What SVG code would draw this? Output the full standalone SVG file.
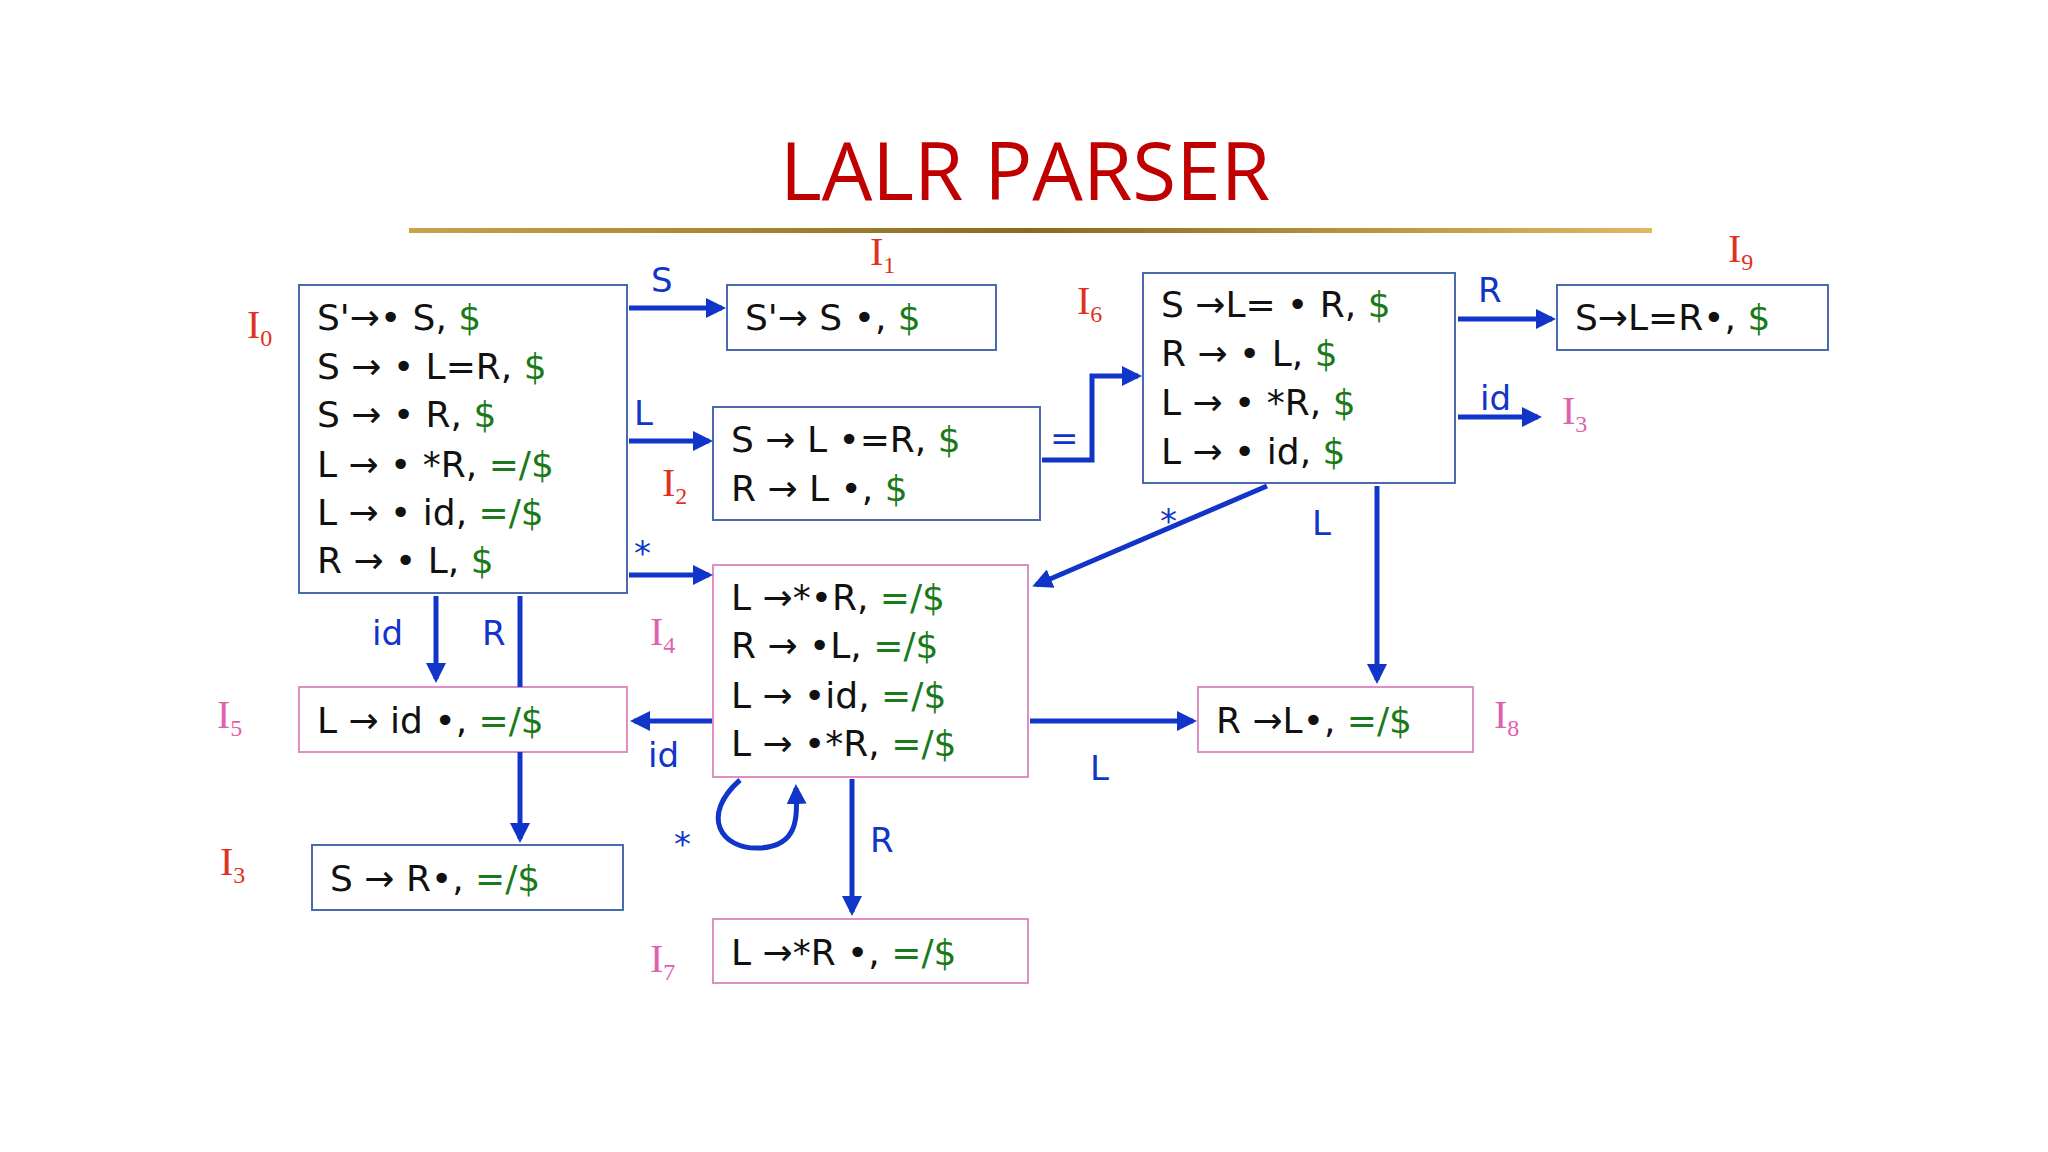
<svg xmlns="http://www.w3.org/2000/svg" width="2048" height="1152" viewBox="0 0 2048 1152">
<defs>
<linearGradient id="gl" x1="0" x2="1"><stop offset="0" stop-color="#c9a24a"/><stop offset="0.5" stop-color="#8a6a20"/><stop offset="1" stop-color="#e0b860"/></linearGradient>
<marker id="ah" viewBox="0 0 10 10" refX="8" refY="5" markerWidth="4" markerHeight="4" orient="auto"><path d="M0,0 L10,5 L0,10 z" fill="#1035c8"/></marker>
<style>
.t{font-family:"DejaVu Sans","Liberation Sans",sans-serif;font-size:36px;fill:#111}
.g{fill:#1a7a1a}
.b{fill:none;stroke:#4a6ab0;stroke-width:2}
.p{fill:none;stroke:#e090c0;stroke-width:2}
.c{fill:none;stroke:#1035c8;stroke-width:5;marker-end:url(#ah)}
.n{fill:none;stroke:#1035c8;stroke-width:5}
.l{font-family:"DejaVu Sans","Liberation Sans",sans-serif;font-size:34px;fill:#1035c8}
.r{font-family:"Liberation Serif",serif;font-size:40px;fill:#e03020}
.k{font-family:"Liberation Serif",serif;font-size:40px;fill:#e060b0}
.s{font-size:24px}
</style>
</defs>
<rect width="2048" height="1152" fill="#fff"/>
<text x="1025" y="200" text-anchor="middle" font-family="'Open Sans','Liberation Sans',sans-serif" font-size="80" fill="#c00000">LALR PARSER</text>
<rect x="409" y="228" width="1243" height="5" fill="url(#gl)"/>

<g id="I0"><rect class="b" x="299" y="285" width="328" height="308"/>
<text class="t" x="317" y="330">S'→• S, <tspan class="g">$</tspan></text>
<text class="t" x="317" y="379">S → • L=R, <tspan class="g">$</tspan></text>
<text class="t" x="317" y="427">S → • R, <tspan class="g">$</tspan></text>
<text class="t" x="317" y="477">L → • *R, <tspan class="g">=/$</tspan></text>
<text class="t" x="317" y="525">L → • id, <tspan class="g">=/$</tspan></text>
<text class="t" x="317" y="573">R → • L, <tspan class="g">$</tspan></text>
<text class="r" x="247" y="338">I<tspan class="s" dy="8">0</tspan></text></g>

<g id="I1"><rect class="b" x="727" y="285" width="269" height="65"/>
<text class="t" x="745" y="330">S'→ S •, <tspan class="g">$</tspan></text>
<text class="r" x="870" y="265">I<tspan class="s" dy="8">1</tspan></text></g>

<g id="I2"><rect class="b" x="713" y="407" width="327" height="113"/>
<text class="t" x="731" y="452">S →  L •=R, <tspan class="g">$</tspan></text>
<text class="t" x="731" y="501">R →  L •, <tspan class="g">$</tspan></text>
<text class="r" x="662" y="496">I<tspan class="s" dy="8">2</tspan></text></g>

<g id="I6"><rect class="b" x="1143" y="273" width="312" height="210"/>
<text class="t" x="1161" y="317">S →L= • R, <tspan class="g">$</tspan></text>
<text class="t" x="1161" y="366">R → • L, <tspan class="g">$</tspan></text>
<text class="t" x="1161" y="415">L → • *R, <tspan class="g">$</tspan></text>
<text class="t" x="1161" y="464">L → • id, <tspan class="g">$</tspan></text>
<text class="r" x="1077" y="314">I<tspan class="s" dy="8">6</tspan></text></g>

<g id="I9"><rect class="b" x="1557" y="285" width="271" height="65"/>
<text class="t" x="1575" y="330">S→L=R•, <tspan class="g">$</tspan></text>
<text class="r" x="1728" y="262">I<tspan class="s" dy="8">9</tspan></text></g>

<g id="I3a"><text class="k" x="1562" y="424">I<tspan class="s" dy="8">3</tspan></text></g>

<g id="I4"><rect class="p" x="713" y="565" width="315" height="212"/>
<text class="t" x="731" y="610">L →*•R, <tspan class="g">=/$</tspan></text>
<text class="t" x="731" y="658">R → •L, <tspan class="g">=/$</tspan></text>
<text class="t" x="731" y="708">L → •id, <tspan class="g">=/$</tspan></text>
<text class="t" x="731" y="756">L → •*R, <tspan class="g">=/$</tspan></text>
<text class="k" x="650" y="645">I<tspan class="s" dy="8">4</tspan></text></g>

<g id="I5"><rect class="p" x="299" y="687" width="328" height="65"/>
<text class="t" x="317" y="733">L →  id •, <tspan class="g">=/$</tspan></text>
<text class="k" x="217" y="728">I<tspan class="s" dy="8">5</tspan></text></g>

<g id="I8"><rect class="p" x="1198" y="687" width="275" height="65"/>
<text class="t" x="1216" y="733">R →L•, <tspan class="g">=/$</tspan></text>
<text class="k" x="1494" y="728">I<tspan class="s" dy="8">8</tspan></text></g>

<g id="I3"><rect class="b" x="312" y="845" width="311" height="65"/>
<text class="t" x="330" y="891">S →  R•, <tspan class="g">=/$</tspan></text>
<text class="r" x="220" y="875">I<tspan class="s" dy="8">3</tspan></text></g>

<g id="I7"><rect class="p" x="713" y="919" width="315" height="64"/>
<text class="t" x="731" y="965">L →*R •, <tspan class="g">=/$</tspan></text>
<text class="k" x="650" y="972">I<tspan class="s" dy="8">7</tspan></text></g>

<g id="connectors">
<path class="c" d="M629,308 H722"/><text class="l" x="651" y="292">S</text>
<path class="c" d="M629,441 H709"/><text class="l" x="634" y="425">L</text>
<path class="c" d="M629,575 H709"/><text class="l" x="634" y="565">*</text>
<path class="c" d="M1042,460 H1092 V376 H1138"/><text class="l" x="1050" y="450">=</text>
<path class="c" d="M1458,319 H1552"/><text class="l" x="1478" y="302">R</text>
<path class="c" d="M1458,417 H1538"/><text class="l" x="1480" y="410">id</text>
<path class="c" d="M1267,486 L1036,585"/><text class="l" x="1160" y="533">*</text>
<path class="c" d="M1377,486 V680"/><text class="l" x="1312" y="535">L</text>
<path class="c" d="M436,596 V679"/><text class="l" x="372" y="645">id</text>
<path class="n" d="M520,596 V687"/><path class="c" d="M520,752 V839"/><text class="l" x="482" y="645">R</text>
<path class="c" d="M712,721 H634"/><text class="l" x="648" y="767">id</text>
<path class="c" d="M1030,721 H1193"/><text class="l" x="1090" y="780">L</text>
<path class="c" d="M852,779 V912"/><text class="l" x="870" y="852">R</text>
<path class="c" d="M740,780 C700,815 720,850 760,848 C800,846 797,815 796,788"/><text class="l" x="674" y="856">*</text>
</g>
</svg>
